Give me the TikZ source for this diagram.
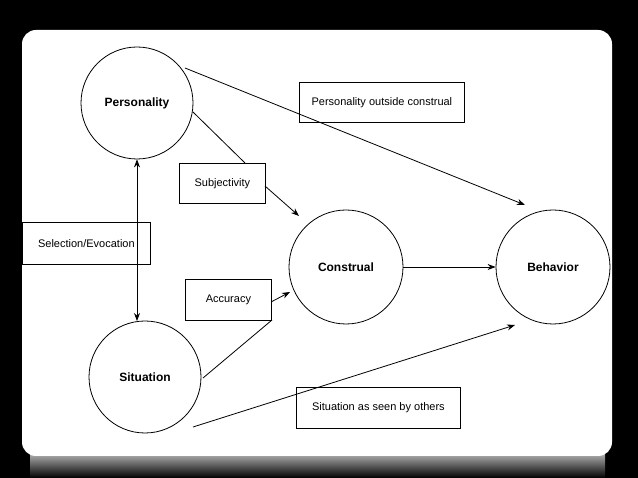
\documentclass[tikz,border=0pt]{standalone}
\usepackage{fontspec}
\setmainfont{Liberation Sans}
\usetikzlibrary{arrows.meta}
\begin{document}
\begin{tikzpicture}[x=1pt,y=-1pt,
  circ/.style={draw,thick,circle,minimum size=112pt,inner sep=0pt,font=\bfseries\fontsize{12}{14}\selectfont},
  lbl/.style={draw,thick,minimum height=40pt,inner sep=3pt,font=\fontsize{11}{13}\selectfont,anchor=north west},
  conn/.style={thick},
  arr/.style={thick,-{Stealth[length=8pt,width=6pt]}}]
\fill[black] (0,0) rectangle (638,478);
\shade[top color=gray!70,bottom color=black] (30,455) rectangle (605,478);
\fill[white,rounded corners=14pt] (22,30) rectangle (612,456);
\node[circ] (pers) at (137,103) {Personality};
\node[circ] (sit) at (145,377) {Situation};
\node[circ,minimum size=114pt] (cons) at (346,267) {Construal};
\node[circ,minimum size=114pt] (beh) at (553,267) {Behavior};
\node[lbl,minimum width=165pt] (poc) at (299,82) {Personality outside construal};
\node[lbl,minimum width=86pt] (subj) at (179,163) {Subjectivity};
\node[lbl,minimum width=128pt,minimum height=42pt] (sel) at (22,222) {Selection/Evocation};
\node[lbl,minimum width=86pt,minimum height=41pt] (acc) at (185,279) {Accuracy};
\node[lbl,minimum width=164pt,minimum height=41pt] (sso) at (296,387) {Situation as seen by others};
\coordinate (p1) at (185,68);
\coordinate (b1) at (525,205);
\draw[arr] (p1) -- (b1);
\coordinate (p2) at (193,112);
\coordinate (s1) at (245,163);
\draw[conn] (p2) -- (s1);
\coordinate (s2) at (265,186);
\coordinate (c1) at (299,216);
\draw[arr] (s2) -- (c1);
\draw[thick,{Stealth[length=8pt,width=6pt]}-{Stealth[length=8pt,width=6pt]}] (pers.south) -- (137,321);
\coordinate (q1) at (203,378);
\coordinate (a1) at (272,320);
\draw[conn] (q1) -- (a1);
\coordinate (a2) at (271,302);
\coordinate (c2) at (290,292);
\draw[arr] (a2) -- (c2);
\coordinate (q2) at (193,427);
\coordinate (b2) at (515,325);
\draw[arr] (q2) -- (b2);
\draw[arr] (cons.east) -- (beh.west);
\end{tikzpicture}
\end{document}
